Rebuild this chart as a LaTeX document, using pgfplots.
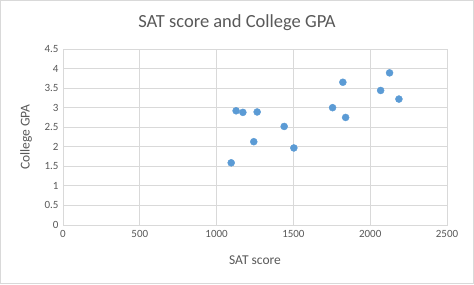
\documentclass[border=0pt]{standalone}
\usepackage{pgfplots}
\pgfplotsset{compat=1.18}
\usepackage{fontspec}
\setmainfont{Carlito}
\definecolor{tickgray}{HTML}{595959}
\definecolor{gridgray}{HTML}{D9D9D9}
\definecolor{dotblue}{HTML}{5B9BD5}
\begin{document}
\begin{tikzpicture}[x=1pt,y=1pt]
\draw[gridgray, line width=0.8pt, fill=white] (0.4,0.4) rectangle (473.6,283.6);
\begin{axis}[
  at={(63pt,59pt)}, anchor=south west,
  scale only axis, width=384pt, height=176pt,
  xmin=0, xmax=2500, ymin=0, ymax=4.5,
  xtick={0,500,...,2500},
  ytick={0,0.5,...,4.5},
  yticklabels={0,0.5,1,1.5,2,2.5,3,3.5,4,4.5},
  grid=major,
  grid style={gridgray, line width=0.8pt},
  axis line style={gridgray, line width=0.8pt},
  tick style={draw=none},
  /pgf/number format/assume math mode=true,
  /pgf/number format/1000 sep={},
  ticklabel style={font=\fontsize{11}{12}\selectfont, text=tickgray},
  xticklabel style={yshift=-2pt},
  yticklabel style={xshift=-1pt},
]
\addplot[only marks, mark=*, mark size=3.5pt, mark options={fill=dotblue, draw=dotblue}] coordinates {
(1095,1.59) (1127,2.92) (1171,2.88) (1264,2.89) (1242,2.13) (1440,2.52)
(1503,1.97) (1755,3.00) (1822,3.65) (1840,2.75) (2068,3.44) (2126,3.89) (2187,3.22)
};
\end{axis}
\node[text=tickgray, font=\fontsize{18.5}{22}\selectfont] at (237,261) {SAT score and College GPA};
\node[text=tickgray, font=\fontsize{13.5}{15}\selectfont] at (255,24) {SAT score};
\node[text=tickgray, font=\fontsize{13.5}{15}\selectfont, rotate=90] at (26,147) {College GPA};
\end{tikzpicture}
\end{document}
